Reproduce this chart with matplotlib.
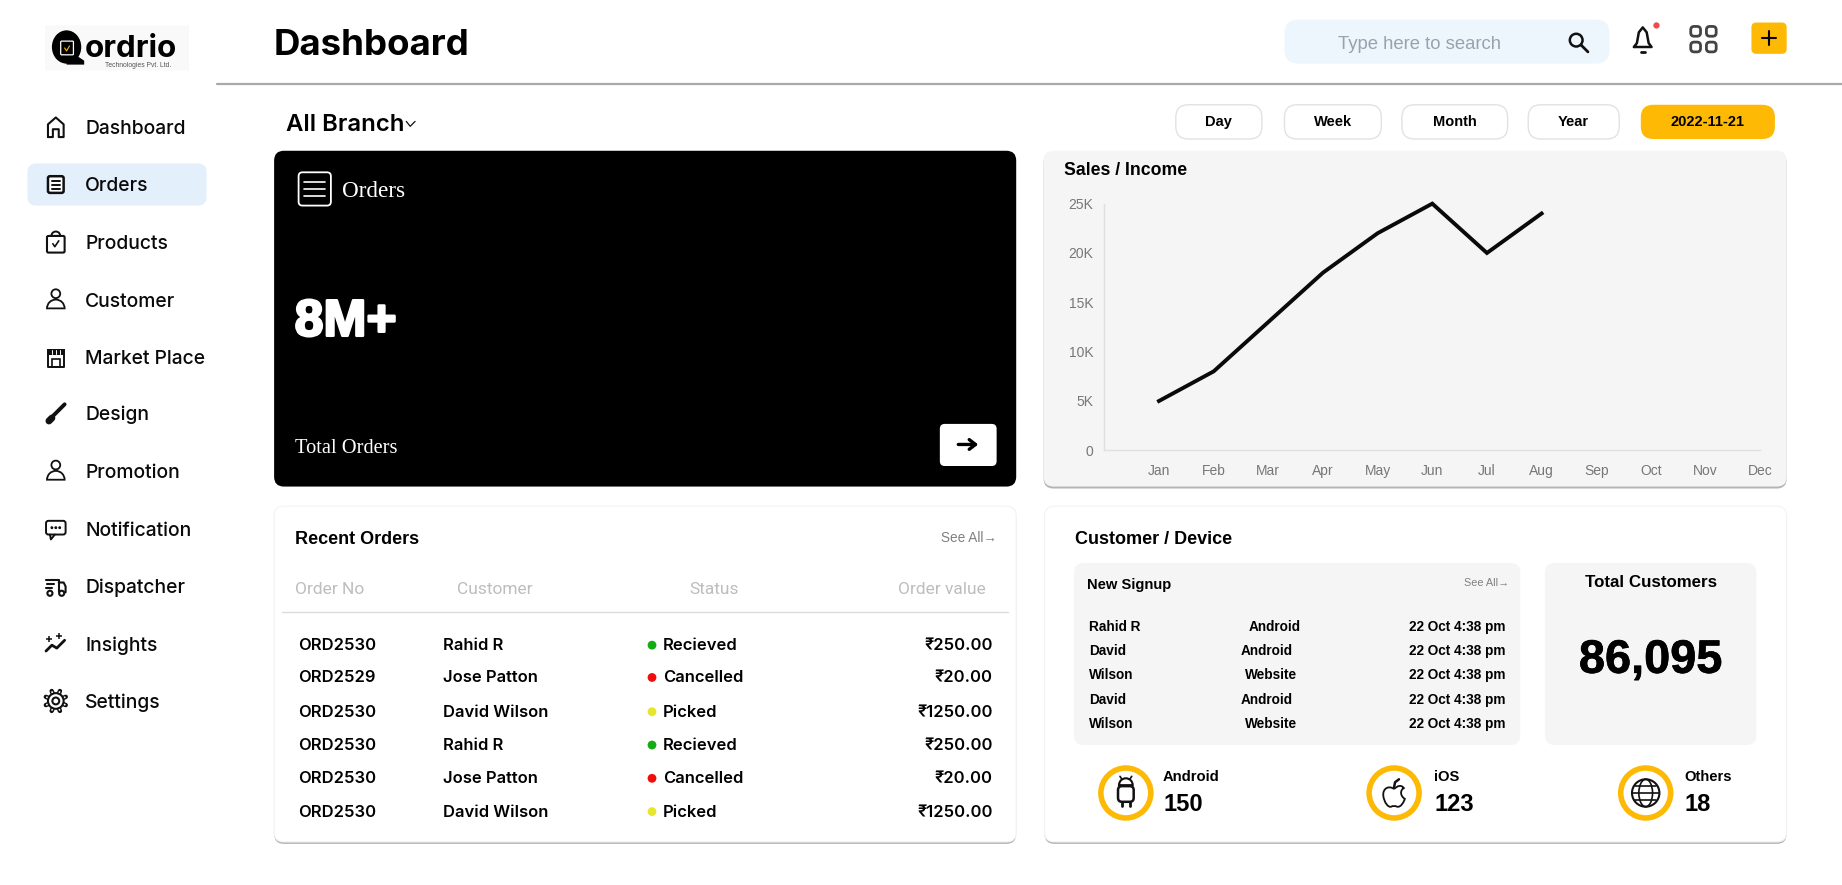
import matplotlib
matplotlib.use('Agg')
import matplotlib.pyplot as plt
import matplotlib.patheffects as pe
import numpy as np
from matplotlib.patches import FancyBboxPatch, Circle, Ellipse, Wedge, Rectangle, PathPatch, Polygon
from matplotlib.path import Path

# data
months = ['Jan', 'Feb', 'Mar', 'Apr', 'May', 'Jun', 'Jul', 'Aug', 'Sep', 'Oct', 'Nov', 'Dec']
sales = [5000, 8000, 13000, 18000, 22000, 25000, 20000, 24000]
y_ticks = [0, 5000, 10000, 15000, 20000, 25000]
y_labels = ['0', '5K', '10K', '15K', '20K', '25K']

nav_items = ['Dashboard', 'Orders', 'Products', 'Customer', 'Market Place', 'Design',
             'Promotion', 'Notification', 'Dispatcher', 'Insights', 'Settings']
ranges = ['Day', 'Week', 'Month', 'Year', '2022-11-21']

order_no = ['ORD2530', 'ORD2529', 'ORD2530', 'ORD2530', 'ORD2530', 'ORD2530']
order_customer = ['Rahid R', 'Jose Patton', 'David Wilson', 'Rahid R', 'Jose Patton', 'David Wilson']
order_status = ['Recieved', 'Cancelled', 'Picked', 'Recieved', 'Cancelled', 'Picked']
order_value = ['₹250.00', '₹20.00', '₹1250.00', '₹250.00', '₹20.00', '₹1250.00']
order_headers = ['Order No', 'Customer', 'Status', 'Order value']
status_colors = {'Recieved': '#12ad12', 'Cancelled': '#f20d0d', 'Picked': '#e6e62e'}

signup_name = ['Rahid R', 'David', 'Wilson', 'David', 'Wilson']
signup_device = ['Android', 'Android', 'Website', 'Android', 'Website']
signup_time = ['22 Oct 4:38 pm'] * 5

device_names = ['Android', 'iOS', 'Others']
device_counts = [150, 123, 18]
total_customers = '86,095'

W, H = 1842, 885
S = 0.979  # layout numbers below were measured on a slightly larger grid
WD, HD = W / S, H / S
POP = ['Inter', 'DejaVu Sans']
ARIAL = ['Liberation Sans']
SERIF = ['Liberation Serif']
YELLOW = '#fdb903'
PANEL = '#f5f5f5'

fig = plt.figure(figsize=(W / 100, H / 100), dpi=100, facecolor='white')
ax = fig.add_axes([0, 0, 1, 1])
ax.set_xlim(0, WD)
ax.set_ylim(HD, 0)
ax.axis('off')


def box(x0, y0, x1, y1, color, r=10, edge='none', lw=0, shadow=False, z=2):
    if shadow:
        ax.add_patch(FancyBboxPatch((x0, y0 + 2), x1 - x0, y1 - y0, boxstyle=f'round,pad=0,rounding_size={r}',
                                    fc='#b4b4b4', ec='none', zorder=z - 0.1))
    ax.add_patch(FancyBboxPatch((x0, y0), x1 - x0, y1 - y0, boxstyle=f'round,pad=0,rounding_size={r}',
                                fc=color, ec=edge, lw=lw, zorder=z))


def txt(x, y, s, size, family=POP, weight='normal', color='black', ha='left', z=5, stroke=0):
    t = ax.text(x, y + 0.5 * size, s, fontsize=size * S, family=family, fontweight=weight, color=color,
                ha=ha, va='baseline', zorder=z)
    if stroke:
        t.set_path_effects([pe.withStroke(linewidth=stroke, foreground=color)])


def line(xs, ys, lw=1.5, color='#111111', z=5):
    ax.plot(xs, ys, color=color, lw=lw, zorder=z, solid_capstyle='round', solid_joinstyle='round')


def ring(x, y, r, lw=1.5, color='#111111', fc='none', z=5):
    ax.add_patch(Circle((x, y), r, fc=fc, ec=color, lw=lw, zorder=z))


def person(x, y):
    ring(x, y - 6, 4.5, lw=1.3)
    ax.add_patch(Wedge((x, y + 9), 9, 180, 360, fc='none', ec='#111111', lw=1.3, zorder=5))


def icon_home(x, y):
    line([x - 8, x - 8, x, x + 8, x + 8, x + 3, x + 3, x - 3, x - 3, x - 8],
         [y + 10, y - 3, y - 10, y - 3, y + 10, y + 10, y + 2, y + 2, y + 10, y + 10])


def icon_orders(x, y):
    box(x - 8, y - 8, x + 8, y + 9, 'white', r=2, edge='#111111', lw=1.8, z=4)
    for d in (-3, 1, 5):
        line([x - 4, x + 4], [y + d, y + d], lw=1.4)


def icon_bag(x, y):
    box(x - 9, y - 6, x + 9, y + 11, 'white', r=1.5, edge='#111111', lw=1.5, z=4)
    ax.add_patch(Wedge((x, y - 6), 4.5, 180, 360, fc='none', ec='#111111', lw=1.4, zorder=5))
    line([x - 3, x - 1, x + 3], [y + 2, y + 5, y - 1], lw=1.2)


def icon_store(x, y):
    ax.add_patch(Rectangle((x - 9, y - 9), 18, 7, fc='#111111', zorder=5))
    for d in (-4, 0, 4):
        line([x + d, x + d], [y - 8, y - 3], lw=0.7, color='white', z=6)
    line([x - 8, x - 8, x + 8, x + 8], [y - 2, y + 10, y + 10, y - 2], lw=1.4)
    ax.add_patch(Rectangle((x - 4, y + 2), 8, 8, fc='none', ec='#111111', lw=1.2, zorder=5))


def icon_brush(x, y):
    line([x - 7, x - 4], [y + 8, y + 5], lw=5)
    line([x - 3, x + 9], [y + 3, y - 9], lw=2.8)


def icon_chat(x, y):
    box(x - 10, y - 8, x + 10, y + 6, 'white', r=2.5, edge='#111111', lw=1.4, z=4)
    line([x - 6, x - 5, x - 1], [y + 6, y + 11, y + 6], lw=1.4)
    for d in (-4, 0, 4):
        ring(x + d, y - 1, 0.9, lw=0.8, fc='#111111')


def icon_truck(x, y):
    line([x - 10, x + 3, x + 3], [y - 7, y - 7, y + 6])
    line([x + 3, x + 8, x + 10, x + 10, x + 6], [y - 4, y - 4, y, y + 6, y + 6])
    line([x - 9, x - 2], [y - 2, y - 2])
    line([x - 10, x - 4], [y + 2, y + 2])
    ring(x - 6, y + 7, 2.6, fc='white', z=6)
    ring(x + 6, y + 7, 2.6, fc='white', z=6)


def icon_insights(x, y):
    line([x - 10, x - 4, x + 1, x + 9], [y + 7, y + 1, y + 4, y - 4], lw=2)
    ax.plot([x - 7, x + 3], [y - 5, y - 8], ls='none', marker='+', ms=5, mew=1.1, color='#111111', zorder=5)


def icon_gear(x, y):
    for a in np.arange(8) * np.pi / 4 + np.pi / 8:
        line([x + 8 * np.cos(a), x + 11 * np.cos(a)], [y + 8 * np.sin(a), y + 11 * np.sin(a)], lw=3.2, z=4)
        line([x + 8 * np.cos(a), x + 10 * np.cos(a)], [y + 8 * np.sin(a), y + 10 * np.sin(a)], lw=1.2, color='white', z=4.2)
    ring(x, y, 8, lw=1.5, fc='white', z=4.5)
    ring(x, y, 3.5, lw=1.5, z=5)


def icon_apple(x, y):
    verts = [(x, y - 6), (x - 5, y - 10), (x - 12, y - 7), (x - 11, y + 1),
             (x - 10, y + 8), (x - 6, y + 13), (x - 3, y + 12),
             (x - 1, y + 11), (x + 1, y + 11), (x + 3, y + 12),
             (x + 7, y + 13), (x + 10, y + 7), (x + 11, y + 4),
             (x + 6, y + 1), (x + 6, y - 5), (x + 10, y - 7),
             (x + 7, y - 11), (x + 3, y - 9), (x, y - 6)]
    codes = [Path.MOVETO] + [Path.CURVE4] * 18
    ax.add_patch(PathPatch(Path(verts, codes), fc='none', ec='#111111', lw=1.3, zorder=5))
    line([x, x + 1, x + 5], [y - 8, y - 13, y - 16], lw=1.8)


# sidebar
box(46, 26, 193, 72, '#f9f9f9', r=0, z=1)
ax.add_patch(Ellipse((68, 48), 30, 34, fc='black', zorder=3))
ax.add_patch(Polygon([(68, 50), (86, 62), (86, 66), (68, 66)], fc='black', zorder=3))
box(62, 42, 75, 56, 'black', r=1, edge='white', lw=0.9, z=4)
line([66, 68, 71], [49, 52, 47], lw=0.8, color=YELLOW)
txt(87, 47, 'ordrio', 23, weight='bold')
txt(175, 66, 'Technologies Pvt. Ltd.', 5, family=ARIAL, color='#555555', ha='right')

box(28, 167, 211, 210, '#e3effb', r=9, z=1)
nav_y = [130, 188, 247, 306, 365, 422, 481, 540, 599, 658, 716]
nav_icons = [icon_home, icon_orders, icon_bag, person, icon_store, icon_brush,
             person, icon_chat, icon_truck, icon_insights, icon_gear]
for name, ny, icon in zip(nav_items, nav_y, nav_icons):
    icon(57, ny)
    txt(87, ny, name, 14.2, weight='medium', color='#0a0a0a')

# top bar
txt(280, 43, 'Dashboard', 27, weight='bold')
line([222, WD], [86, 86], lw=1.6, color='#a9a9a9', z=1)
box(1312, 20, 1644, 65, '#eef6fd', r=14)
txt(1450, 43, 'Type here to search', 13.6, family=ARIAL, color='#98a2ae', ha='center')
ring(1610, 41, 6.5, lw=1.8)
line([1615, 1622], [46, 53], lw=2)
line([1669, 1672, 1674, 1678, 1682, 1684, 1687, 1669],
     [48, 44, 33, 28, 33, 44, 48, 48], lw=1.8)
line([1676, 1680], [53, 53], lw=2)
ring(1692, 26, 3.2, lw=0, color='#f04a4a', fc='#f04a4a')
for gx in (1732, 1748):
    for gy in (32, 48):
        box(gx - 5, gy - 5, gx + 5, gy + 5, 'white', r=3.5, edge='#444444', lw=2)
box(1789, 23, 1825, 55, YELLOW, r=5)
line([1807, 1807], [32, 46], lw=1.5, color='black', z=6)
line([1800, 1814], [39, 39], lw=1.5, color='black', z=6)

txt(292, 125, 'All Branch', 17.6, weight='semibold')
line([415, 419, 424], [124, 129, 124], lw=0.9)

btn_x = [(1201, 1289), (1312, 1411), (1432, 1540), (1561, 1654), (1676, 1813)]
for label, (b0, b1) in zip(ranges, btn_x):
    active = label == ranges[-1]
    box(b0, 107, b1, 142, YELLOW if active else 'white', r=13, edge='none' if active else '#e2e2e2', lw=1)
    txt((b0 + b1) / 2, 123, label, 10.8, family=ARIAL, weight='bold', ha='center')

# black orders card
box(280, 154, 1038, 497, 'black', r=10)
box(305, 176, 338, 210, 'black', r=4, edge='white', lw=1.3, z=3)
for ly in (186, 193, 200):
    line([311, 332], [ly, ly], lw=1.2, color='white')
txt(349, 193, 'Orders', 17, family=SERIF, color='white')
txt(301, 324, '8M+', 38, family=ARIAL, weight='bold', color='white', stroke=1.8)
txt(301, 455, 'Total Orders', 15, family=SERIF, color='white')
box(960, 433, 1018, 476, 'white', r=5)
ax.annotate('', xy=(1002, 454), xytext=(976, 454), zorder=6,
            arrowprops=dict(arrowstyle='->,head_length=0.45,head_width=0.35', lw=2.4, color='black'))

# sales card
box(1066, 154, 1825, 497, PANEL, r=10, shadow=True)
txt(1087, 172, 'Sales / Income', 13, family=ARIAL, weight='bold')

ax_l, ax_r, ax_t, ax_b = 1128, 1798, 208, 460
chart = fig.add_axes([ax_l / WD, 1 - ax_b / HD, (ax_r - ax_l) / WD, (ax_b - ax_t) / HD], zorder=3)
chart.patch.set_alpha(0)
chart.plot(range(len(sales)), sales, color='#0a0a0a', lw=2.8, clip_on=False, solid_joinstyle='miter')
chart.set_xlim(-1, 11)
chart.set_ylim(0, 25000)
chart.set_xticks(range(len(months)), months, family=ARIAL, fontsize=10, color='#777777')
chart.set_yticks(y_ticks, y_labels, family=ARIAL, fontsize=10, color='#777777')
chart.tick_params(length=0)
chart.tick_params(axis='x', pad=10)
chart.tick_params(axis='y', pad=8)
for side in ('top', 'right'):
    chart.spines[side].set_visible(False)
for side in ('left', 'bottom'):
    chart.spines[side].set_color('#e0e0e0')
    chart.spines[side].set_linewidth(1)

# recent orders
box(280, 517, 1038, 860, 'white', r=10, shadow=True, edge='#f3f3f3', lw=0.8)
txt(301, 549, 'Recent Orders', 13.2, family=ARIAL, weight='bold')
txt(1018, 549, 'See All→', 10, family=ARIAL, color='#808080', ha='right')
for label, hx in zip(order_headers, [301, 467, 704, 917]):
    txt(hx, 600, label, 12.8, family='Roboto', color='#bdbdbd')
line([288, 1030], [625, 625], lw=1, color='#dcdcdc', z=3)
row_y = [658, 691, 726, 760, 794, 828]
for no, cust, st, val, ry in zip(order_no, order_customer, order_status, order_value, row_y):
    txt(305, ry, no, 12.2, weight='semibold')
    txt(452, ry, cust, 12.2, weight='semibold')
    ax.add_patch(Circle((666, ry + 1), 4.5, fc=status_colors[st], zorder=5))
    txt(677, ry, st, 12.2, weight='semibold')
    txt(1014, ry, val, 12.2, weight='semibold', ha='right')

# customer / device
box(1067, 517, 1825, 860, 'white', r=10, shadow=True, edge='#f3f3f3', lw=0.8)
txt(1098, 549, 'Customer / Device', 13.2, family=ARIAL, weight='bold')
box(1097, 575, 1553, 761, PANEL, r=10, shadow=True)
txt(1110, 596, 'New Signup', 10.9, family=ARIAL, weight='bold')
txt(1541, 595, 'See All→', 8, family=ARIAL, color='#808080', ha='right')
su_y = [640, 664, 689, 714, 739]
su_x = [1302, 1294, 1298, 1294, 1298]
for name, dev, tm, sy, dx in zip(signup_name, signup_device, signup_time, su_y, su_x):
    txt(1112, sy, name, 10, family=ARIAL, weight='bold')
    txt(dx, sy, dev, 10, family=ARIAL, weight='bold', ha='center')
    txt(1538, sy, tm, 10, family=ARIAL, weight='bold', ha='right')
box(1578, 575, 1794, 761, PANEL, r=10, shadow=True)
txt(1686, 593, 'Total Customers', 12.4, family=ARIAL, weight='bold', ha='center')
txt(1686, 670, total_customers, 34.5, family=ARIAL, weight='bold', ha='center', stroke=0.5)

ring_x = [1150, 1424, 1681]
label_x = [1188, 1465, 1721]
for i, (dn, cnt, rx, lx) in enumerate(zip(device_names, device_counts, ring_x, label_x)):
    ring(rx, 810, 25.5, lw=4, color=YELLOW)
    txt(lx, 792, dn, 10.9, family=ARIAL, weight='bold')
    txt(lx, 820, str(cnt), 17.5, family=ARIAL, weight='bold')
# android
box(1142, 803, 1158, 819, 'white', r=4, edge='#111111', lw=1.8)
ax.add_patch(Wedge((1150, 802), 7, 180, 360, fc='none', ec='#111111', lw=1.5, zorder=5))
line([1146, 1144], [796, 793], lw=1.2)
line([1154, 1156], [796, 793], lw=1.2)
line([1146, 1146], [819, 823], lw=2)
line([1154, 1154], [819, 823], lw=2)
icon_apple(1424, 812)
# globe
ring(1681, 810, 14, lw=1.5)
ax.add_patch(Ellipse((1681, 810), 14, 28, fc='none', ec='#111111', lw=1.2, zorder=5))
line([1667, 1695], [810, 810], lw=1.2)
line([1670, 1692], [803, 803], lw=1.2)
line([1670, 1692], [817, 817], lw=1.2)

fig.savefig('out.png', dpi=100)
